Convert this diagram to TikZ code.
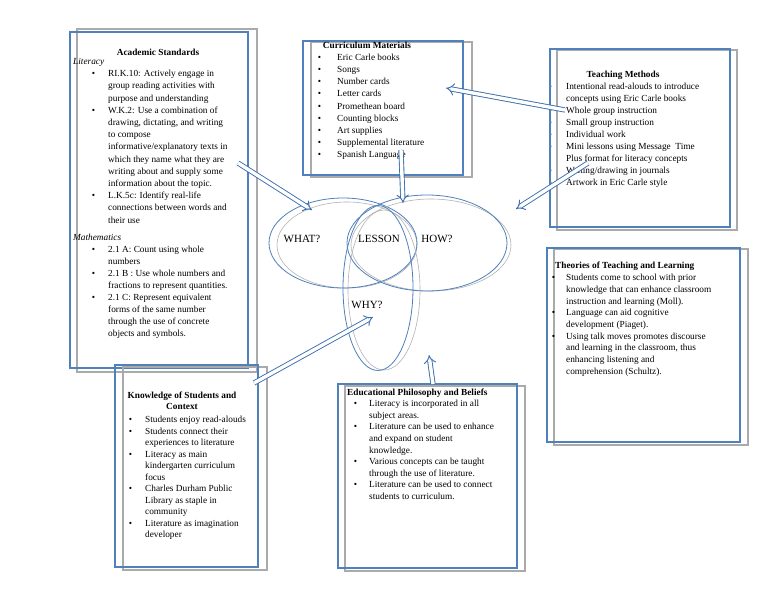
\documentclass[tikz,border=0pt]{standalone}
\usepackage{fontspec}
\setmainfont{Liberation Serif}
\usetikzlibrary{arrows.meta,shapes.geometric}
\definecolor{frameblue}{RGB}{79,129,189}
\definecolor{arrowblue}{RGB}{60,110,175}
\definecolor{framegray}{RGB}{170,170,170}
\tikzset{
  bluebox/.style={draw=frameblue, line width=2.4pt},
  graybox/.style={draw=framegray, line width=1.6pt},
  boxtext/.style={anchor=north west, inner sep=0pt, align=left, font=\fontsize{9.3}{12.2}\selectfont},
  boxtitle/.style={inner sep=0pt, font=\fontsize{9.3}{11}\selectfont\bfseries},
  ring/.style={ellipse, draw=frameblue, line width=0.8pt, inner sep=0pt},
  ringshade/.style={ellipse, draw=gray!60, line width=0.6pt, inner sep=0pt},
  dblarrow/.style={draw=arrowblue, line width=0.9pt, double=white, double distance=3.4pt, -{Implies[scale=2.3]}},
}
\newcommand{\bl}[1][13pt]{\llap{\textbullet\hspace{#1}}}
\newcommand{\tb}{\llap{\textcolor{gray}{\footnotesize\textbullet}\hspace{14pt}}}
\begin{document}
\begin{tikzpicture}[x=1pt,y=-1pt]
  \fill[white] (0,0) rectangle (768,594);
  \useasboundingbox (0,0) rectangle (768,594);

  % frames
  \draw[graybox] (77,29) rectangle (257,372);
  \draw[bluebox] (70,32) rectangle (248,368);
  \draw[graybox] (311,42) rectangle (472,177);
  \draw[bluebox] (303,41) rectangle (463,175);
  \draw[graybox] (557,50) rectangle (737,230);
  \draw[bluebox] (550,49) rectangle (730,227);
  \draw[graybox] (554,249) rectangle (748,445);
  \draw[bluebox] (547,248) rectangle (740,442);
  \draw[graybox] (123,367) rectangle (267,570);
  \draw[bluebox] (115,365) rectangle (258,567);
  \draw[graybox] (345,386) rectangle (525,571);
  \draw[bluebox] (338,384) rectangle (517,568);

  % academic standards
  \node[boxtitle] (stdtitle) at (158,52) {Academic Standards};
  \node[boxtext, font=\fontsize{9.3}{11}\selectfont\itshape] (lit) at (73,58) {Literacy};
  \node[boxtext] (littext) at (108,70) {\bl[13pt]RI.K.10: Actively engage in\\
    group reading activities with\\
    purpose and understanding\\
    \bl[13pt]W.K.2: Use a combination of\\
    drawing, dictating, and writing\\
    to compose\\
    informative/explanatory texts in\\
    which they name what they are\\
    writing about and supply some\\
    information about the topic.\\
    \bl[13pt]L.K.5c: Identify real-life\\
    connections between words and\\
    their use};
  \node[boxtext, font=\fontsize{9.3}{11}\selectfont\itshape] (math) at (73,234) {Mathematics};
  \node[boxtext, font=\fontsize{9.3}{12}\selectfont] (mathtext) at (108,246) {\bl[13pt]2.1 A: Count using whole\\
    numbers\\
    \bl[13pt]2.1 B : Use whole numbers and\\
    fractions to represent quantities.\\
    \bl[13pt]2.1 C: Represent equivalent\\
    forms of the same number\\
    through the use of concrete\\
    objects and symbols.};

  % curriculum materials
  \node[boxtitle] (curtitle) at (367,45) {Curriculum Materials};
  \node[boxtext, font=\fontsize{9.3}{12.1}\selectfont] (curtext) at (337,54) {\bl[16pt]Eric Carle books\\
    \bl[16pt]Songs\\
    \bl[16pt]Number cards\\
    \bl[16pt]Letter cards\\
    \bl[16pt]Promethean board\\
    \bl[16pt]Counting blocks\\
    \bl[16pt]Art supplies\\
    \bl[16pt]Supplemental literature\\
    \bl[16pt]Spanish Language};

  % teaching methods
  \node[boxtitle] (teachtitle) at (623,75) {Teaching Methods};
  \node[boxtext, font=\fontsize{9.3}{12}\selectfont] (teachtext) at (566,83) {\tb Intentional read-alouds to introduce\\
    concepts using Eric Carle books\\
    \tb Whole group instruction\\
    \tb Small group instruction\\
    \tb Individual work\\
    \tb Mini lessons using Message~ Time\\
    Plus format for literacy concepts\\
    \tb Writing/drawing in journals\\
    \tb Artwork in Eric Carle style};

  % theories
  \node[boxtitle, anchor=west] (thtitle) at (555,266) {Theories of Teaching and Learning};
  \node[boxtext, font=\fontsize{9.3}{11.7}\selectfont] (thtext) at (566,274) {\bl[11pt]Students come to school with prior\\
    knowledge that can enhance classroom\\
    instruction and learning (Moll).\\
    \bl[11pt]Language can aid cognitive\\
    development (Piaget).\\
    \bl[11pt]Using talk moves promotes discourse\\
    and learning in the classroom, thus\\
    enhancing listening and\\
    comprehension (Schultz).};

  % knowledge of students
  \node[boxtitle, align=center] (kntitle) at (182,401) {Knowledge of Students and\\Context};
  \node[boxtext, font=\fontsize{9.3}{11.5}\selectfont] (kntext) at (145,416) {\bl[13pt]Students enjoy read-alouds\\
    \bl[13pt]Students connect their\\
    experiences to literature\\
    \bl[13pt]Literacy as main\\
    kindergarten curriculum\\
    focus\\
    \bl[13pt]Charles Durham Public\\
    Library as staple in\\
    community\\
    \bl[13pt]Literature as imagination\\
    developer};

  % educational philosophy
  \node[boxtitle, anchor=west] (phtitle) at (347,393) {Educational Philosophy and Beliefs};
  \node[boxtext, font=\fontsize{9.3}{11.6}\selectfont] (phtext) at (369,400) {\bl[12pt]Literacy is incorporated in all\\
    subject areas.\\
    \bl[12pt]Literature can be used to enhance\\
    and expand on student\\
    knowledge.\\
    \bl[12pt]Various concepts can be taught\\
    through the use of literature.\\
    \bl[12pt]Literature can be used to connect\\
    students to curriculum.};

  % the three rings
  \node[ringshade, minimum width=140pt, minimum height=86pt] (whatshade) at (347,245) {};
  \node[ring, minimum width=148pt, minimum height=90pt] (what) at (343,243) {};
  \node[ringshade, minimum width=160pt, minimum height=92pt] (howshade) at (431,245) {};
  \node[ring, minimum width=160pt, minimum height=96pt] (how) at (427,243) {};
  \node[ringshade, minimum width=72pt, minimum height=160pt] (whyshade) at (384,290) {};
  \node[ring, minimum width=70pt, minimum height=165pt] (why) at (378,288) {};
  \node[font=\fontsize{11}{13}\selectfont] (whatlbl) at (302,239) {WHAT?};
  \node[font=\fontsize{11}{13}\selectfont] (lessonlbl) at (379,239) {LESSON};
  \node[font=\fontsize{11}{13}\selectfont] (howlbl) at (437,239) {HOW?};
  \node[font=\fontsize{11}{13}\selectfont] (whylbl) at (367,305) {WHY?};

  % arrow ends
  \coordinate (stdout) at (238,163);
  \coordinate (whatin) at (312,210);
  \coordinate (curout) at (401,150);
  \coordinate (lessonin) at (403,203);
  \coordinate (teachup) at (565,110);
  \coordinate (curin) at (446,88);
  \coordinate (teachdown) at (588,163);
  \coordinate (howin) at (516,209);
  \coordinate (knout) at (254,383);
  \coordinate (whyin) at (373,317);
  \coordinate (phout) at (433,384);
  \coordinate (ringin) at (429,355);

  \draw[dblarrow] (stdout) -- (whatin);
  \draw[dblarrow] (curout) -- (lessonin);
  \draw[dblarrow] (teachup) -- (curin);
  \draw[dblarrow] (teachdown) -- (howin);
  \draw[dblarrow] (knout) -- (whyin);
  \draw[dblarrow] (phout) -- (ringin);
\end{tikzpicture}
\end{document}
